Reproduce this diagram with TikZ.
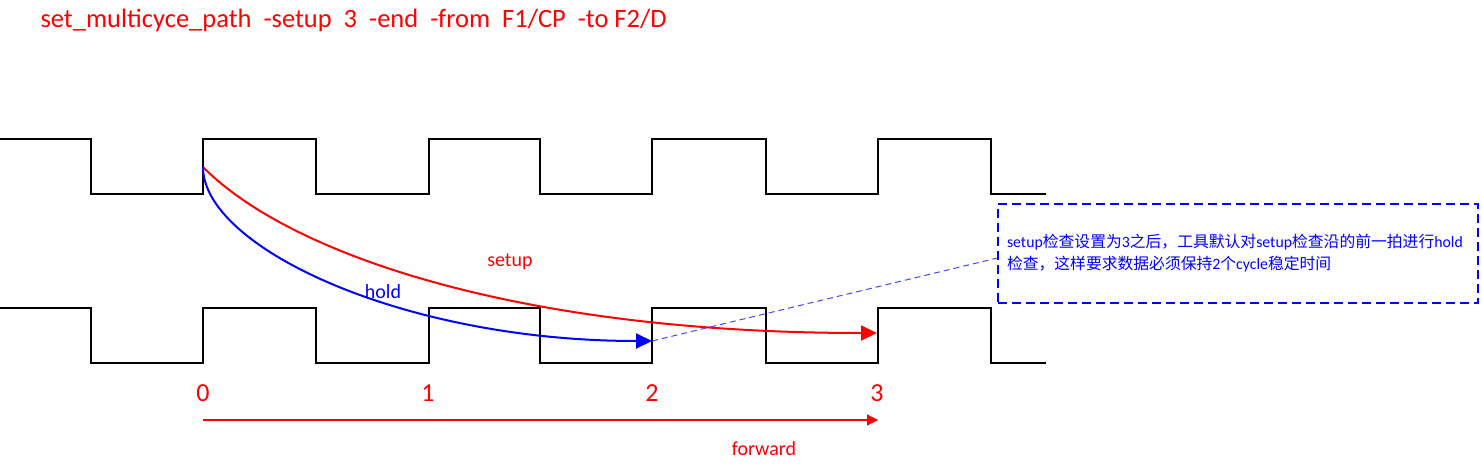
\documentclass[tikz,border=0pt]{standalone}
\usepackage{fontspec}
\setmainfont{Carlito}
\newfontfamily\cjk{Noto Sans CJK SC}
\usetikzlibrary{arrows.meta}
\definecolor{linkblue}{RGB}{70,70,255}
\tikzset{
clk/.style={draw=black, line width=1.2pt},
setuparrow/.style={draw=red, line width=2pt,
	-{Triangle[length=16pt,width=15pt]}},
holdarrow/.style={draw=blue, line width=2pt,
	-{Triangle[length=16pt,width=15pt]}},
fwdarrow/.style={draw=red, line width=1.2pt, -{Triangle[length=11pt,width=11pt]}},
tick/.style={text=red, font=\fontsize{26}{26}\selectfont},
note/.style={draw=blue, dash pattern=on 9pt off 5pt, line width=1.2pt,
	minimum width=480pt, minimum height=99pt, text width=462pt, align=left,
	inner sep=9pt, text=blue, font=\fontsize{15.8}{22}\selectfont}
}
\newcommand{\zh}[1]{{\cjk #1}}

\begin{document}
\begin{tikzpicture}[x=1pt, y=-1pt]
	\useasboundingbox (0,0) rectangle (1482,465);
	\node[anchor=west, text=red, font=\fontsize{26.5}{26.5}\selectfont] (cmd) at (37,20)
		{set\_multicyce\_path\ \ -setup\ \ 3\ \ -end\ \ -from\ \ F1/CP\ \ -to F2/D};
	% the two clocks
	\draw[clk] (0,139) -| (91,194) -| (203,139) -| (316,194) -| (429,139) -| (540,194)
		-| (652,139) -| (766,194) -| (878,139) -| (991,194) -- (1046,194);
	\draw[clk] (0,308) -| (91,363) -| (203,308) -| (316,363) -| (429,308) -| (540,363)
		-| (652,308) -| (766,363) -| (878,308) -| (991,363) -- (1046,363);
	\coordinate (launch) at (203,167);
	\coordinate (holdcap) at (652,341);
	\coordinate (setupcap) at (877,333);
	\draw[setuparrow] (launch) .. controls (290,255) and (520,333) .. (setupcap);
	\draw[holdarrow] (launch) .. controls (203,247) and (402,341) .. (holdcap);
	\node[text=red, font=\fontsize{20}{20}\selectfont] (setuplbl) at (510,262) {setup};
	\node[text=blue, font=\fontsize{20}{20}\selectfont] (holdlbl) at (383,292) {hold};
	% remark
	\node[note] (remark) at (1238,253.5)
		{setup\zh{检查设置为}3\zh{之后，工具默认对}setup\zh{检查沿的前一拍进行}hold\\
		\zh{检查，这样要求数据必须保持}2\zh{个}cycle\zh{稳定时间}};
	\draw[linkblue, line width=1pt, dash pattern=on 6pt off 4pt]
		(holdcap) -- ([yshift=-4.5pt]remark.west);
	% edge numbers
	\node[tick] (n0) at (203,393) {0};
	\node[tick] (n1) at (428,393) {1};
	\node[tick] (n2) at (652,393) {2};
	\node[tick] (n3) at (877,393) {3};
	\coordinate (fwdstart) at (203,420);
	\coordinate (fwdend) at (878,420);
	\draw[fwdarrow] (fwdstart) -- (fwdend);
	\node[text=red, font=\fontsize{20}{20}\selectfont] (fwd) at (764,449) {forward};
\end{tikzpicture}
\end{document}
